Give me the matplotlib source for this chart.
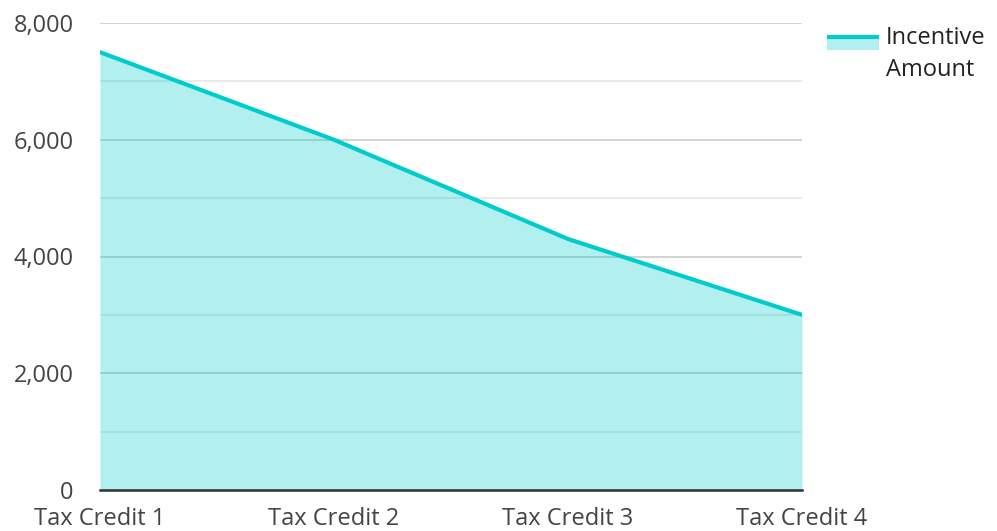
import numpy as np
import matplotlib.pyplot as plt
from matplotlib.legend_handler import HandlerBase
from matplotlib.patches import Rectangle
from matplotlib.lines import Line2D

plt.rcParams['font.family'] = ['Open Sans', 'DejaVu Sans']

categories = ["Tax Credit 1", "Tax Credit 2", "Tax Credit 3", "Tax Credit 4"]
amounts = [7500, 6000, 4300, 3000]
series_name = "Incentive\nAmount"

line_color = "#00cccc"

# legend swatch: filled box with the line on top, placed at the first text line
class AreaHandler(HandlerBase):
    def create_artists(self, legend, orig, xd, yd, width, height, fontsize, trans):
        y0 = yd + self.shift
        rect = Rectangle((xd, y0), width, 10.5, facecolor=line_color,
                         alpha=0.3, edgecolor="none", transform=trans)
        ln = Line2D([xd, xd + width], [y0 + 9.5] * 2, color=line_color,
                    lw=3, transform=trans, solid_capstyle="butt")
        return [rect, ln]

fig = plt.figure(figsize=(9.97, 5.31), dpi=100)
ax = fig.add_axes([100/997, 1 - 490/531, 702/997, 467/531])

x = np.arange(len(categories))
ax.fill_between(x, 0, amounts, color=line_color, alpha=0.3, lw=0, zorder=2)
ax.plot(x, amounts, color=line_color, lw=3, zorder=3, solid_capstyle="round")

ax.set_xlim(x[0], x[-1])
ax.set_ylim(0, 8000)
ax.set_yticks(np.arange(0, 8001, 2000))
ax.set_yticks(np.arange(1000, 8000, 2000), minor=True)
ax.set_yticklabels([f"{v:,}" for v in range(0, 8001, 2000)])
ax.set_xticks(x)
ax.set_xticklabels(categories)

ax.grid(axis="y", which="major", color="#cccccc", lw=1.2, zorder=1)
ax.grid(axis="y", which="minor", color="#e6e6e6", lw=1.2, zorder=1)
ax.set_axisbelow(True)

for s in ["top", "right", "left"]:
    ax.spines[s].set_visible(False)
ax.spines["bottom"].set_color("#333333")
ax.spines["bottom"].set_linewidth(1.8)
ax.spines["bottom"].set_zorder(4)

ax.tick_params(axis="both", which="both", length=0, labelsize=17, colors="#444444")
ax.tick_params(axis="y", pad=19)
ax.tick_params(axis="x", pad=12)

handler = AreaHandler()
handler.shift = 9.5
leg = ax.legend([object()], [series_name], handler_map={object: handler},
                loc="upper left", bbox_to_anchor=(827/997, 1 - 26/531),
                bbox_transform=fig.transFigure, frameon=False,
                borderpad=0, borderaxespad=0,
                fontsize=17, handlelength=2.2, handletextpad=0.3,
                labelcolor="#222222")
for t in leg.get_texts():
    t.set_linespacing(1.45)

fig.savefig("out.png", dpi=100)
